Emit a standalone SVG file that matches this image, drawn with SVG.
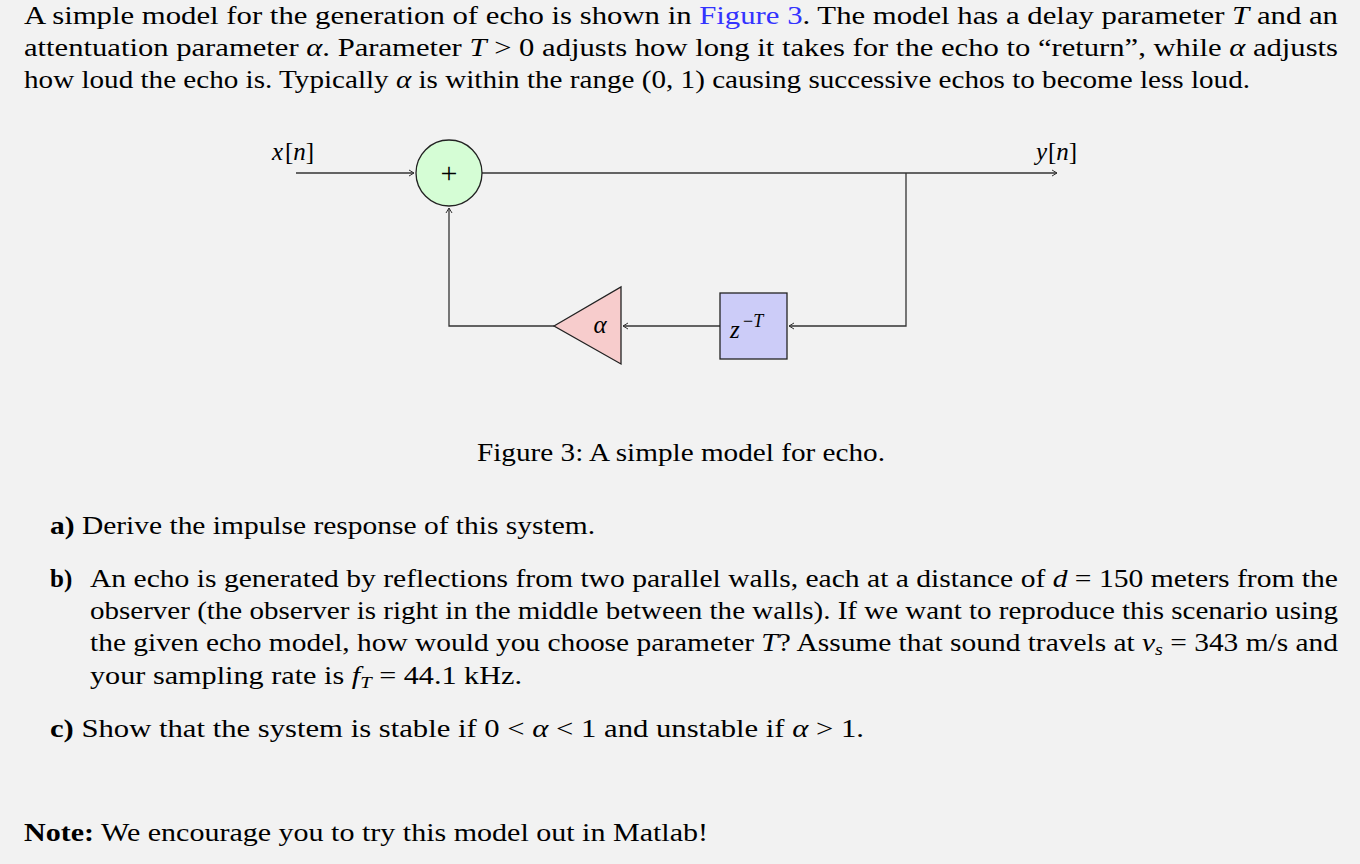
<svg xmlns="http://www.w3.org/2000/svg" width="1360" height="864" viewBox="0 0 1360 864">
<style>
text{font-family:"Liberation Serif","DejaVu Serif",serif;font-size:25px;fill:#000}
.i{font-style:italic}
.b{font-weight:bold}
.s{font-size:17px}
.ln{stroke:#333;stroke-width:1.3;fill:none}
</style>
<defs><marker id="a" markerWidth="8" markerHeight="8" refX="6" refY="4" orient="auto" markerUnits="userSpaceOnUse"><path d="M1,1 L6,4 L1,7" fill="none" stroke="#333" stroke-width="1"/></marker></defs>
<rect width="1360" height="864" fill="#f2f2f2"/>
<text x="24" y="24" textLength="1314" lengthAdjust="spacingAndGlyphs">A simple model for the generation of echo is shown in <tspan fill="#3333ff">Figure 3</tspan>.  The model has a delay parameter <tspan class="i">T</tspan>  and an</text>
<text x="24" y="56" textLength="1314" lengthAdjust="spacingAndGlyphs">attentuation parameter <tspan class="i">α</tspan>. Parameter <tspan class="i">T</tspan> &gt; 0 adjusts how long it takes for the echo to “return”, while <tspan class="i">α</tspan> adjusts</text>
<text x="24" y="88" textLength="1226" lengthAdjust="spacingAndGlyphs">how loud the echo is. Typically <tspan class="i">α</tspan> is within the range (0, 1) causing successive echos to become less loud.</text>
<g id="connectors">
<path class="ln" d="M296,173 H414" marker-end="url(#a)"/>
<path class="ln" d="M482,173 H1057" marker-end="url(#a)"/>
<path class="ln" d="M906,173 V326 H789" marker-end="url(#a)"/>
<path class="ln" d="M720,326 H623" marker-end="url(#a)"/>
<path class="ln" d="M554,326 H449 V208" marker-end="url(#a)"/>
</g>
<g id="x"><text x="272" y="160" class="i">x</text><text x="285" y="160">[<tspan class="i">n</tspan>]</text></g>
<g id="y"><text x="1036" y="160" class="i">y</text><text x="1048" y="160">[<tspan class="i">n</tspan>]</text></g>
<g id="sum"><circle cx="449" cy="173" r="33" fill="#d5fdd5" stroke="#222" stroke-width="1.3"/><text x="449" y="183" text-anchor="middle" style="font-size:30px">+</text></g>
<g id="gain"><polygon points="554,326 621,287 621,364" fill="#f7cccc" stroke="#222" stroke-width="1.3"/><text x="600" y="333" text-anchor="middle" class="i">α</text></g>
<g id="delay"><rect x="720" y="293" width="67" height="66" fill="#ccccf8" stroke="#222" stroke-width="1.3"/><text x="730" y="338" class="i">z</text><text x="743" y="327" style="font-size:18px">−<tspan class="i">T</tspan></text></g>
<text x="477" y="461" textLength="408" lengthAdjust="spacingAndGlyphs">Figure 3: A simple model for echo.</text>
<text x="50" y="534" textLength="545" lengthAdjust="spacingAndGlyphs"><tspan class="b">a)</tspan>  Derive the impulse response of this system.</text>
<text x="50" y="587"><tspan class="b">b)</tspan></text>
<text x="90" y="587" textLength="1248" lengthAdjust="spacingAndGlyphs">An echo is generated by reflections from two parallel walls, each at a distance of <tspan class="i">d</tspan> = 150 meters from the</text>
<text x="90" y="619" textLength="1248" lengthAdjust="spacingAndGlyphs">observer (the observer is right in the middle between the walls). If we want to reproduce this scenario using</text>
<text x="90" y="651" textLength="1248" lengthAdjust="spacingAndGlyphs">the given echo model, how would you choose parameter <tspan class="i">T</tspan>? Assume that sound travels at <tspan class="i">v<tspan class="s" dy="4">s</tspan></tspan><tspan dy="-4"> = 343 m/s and</tspan></text>
<text x="90" y="684" textLength="432" lengthAdjust="spacingAndGlyphs">your sampling rate is <tspan class="i">f<tspan class="s" dy="4">T</tspan></tspan><tspan dy="-4"> = 44.1 kHz.</tspan></text>
<text x="50" y="737" textLength="814" lengthAdjust="spacingAndGlyphs"><tspan class="b">c)</tspan>  Show that the system is stable if 0 &lt; <tspan class="i">α</tspan> &lt; 1 and unstable if <tspan class="i">α</tspan> &gt; 1.</text>
<text x="24" y="841" textLength="684" lengthAdjust="spacingAndGlyphs"><tspan class="b">Note:</tspan> We encourage you to try this model out in Matlab!</text>
</svg>
